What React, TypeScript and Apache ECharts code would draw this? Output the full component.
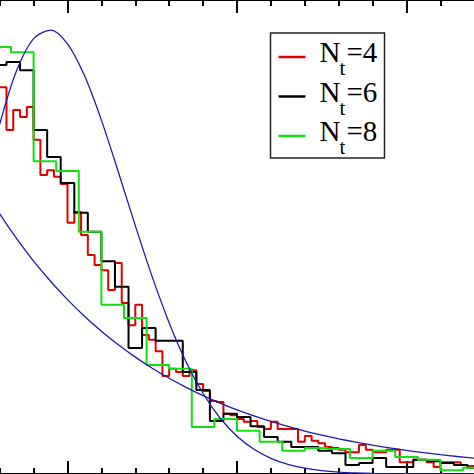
import React, { useEffect, useRef } from "react";
import * as echarts from "echarts";

// Histograms: bin start (s), bin width, bin heights
const redStart = 0.6;
const redWidth = 0.04;
const redValues = [
  0.816, 0.726, 0.768, 0.753, 0.774, 0.705, 0.631, 0.641, 0.627, 0.612,
  0.53, 0.553, 0.504, 0.462, 0.441, 0.43, 0.388, 0.445, 0.361, 0.314,
  0.357, 0.293, 0.283, 0.259, 0.207, 0.222, 0.215, 0.207, 0.219, 0.19,
  0.175, 0.154, 0.152, 0.127, 0.124, 0.116, 0.11, 0.112, 0.099, 0.095,
  0.11, 0.095, 0.095, 0.095, 0.068, 0.08, 0.07, 0.065, 0.057, 0.055,
  0.051, 0.046, 0.046, 0.061, 0.051, 0.046, 0.046, 0.051, 0.051, 0.025,
  0.025, 0.03, 0.03, 0.025, 0.015, 0.025, 0.025, 0.025, 0.019, 0.017,
];

const blackStart = 0.56;
const blackWidth = 0.08;
const blackValues = [
  0.863, 0.869, 0.852, 0.726, 0.669, 0.614, 0.551, 0.511, 0.449, 0.395,
  0.266, 0.308, 0.281, 0.281, 0.215, 0.177, 0.112, 0.127, 0.12, 0.101,
  0.078, 0.068, 0.057, 0.057, 0.049, 0.044, 0.019, 0.023, 0.034, 0.015,
  0.015, 0.03, 0.027, 0.023, 0.019, 0.013,
];

const greenStart = 8 / 15;
const greenWidth = 2 / 15;
const greenValues = [
  0.901, 0.89, 0.66, 0.639, 0.511, 0.357, 0.329, 0.23, 0.222, 0.099,
  0.116, 0.091, 0.068, 0.049, 0.055, 0.053, 0.034, 0.049, 0.036, 0.03,
  0.008, 0.013,
];

// Reference curves (sampled): Wigner surmise and Poisson
const curveS = [
  0.5, 0.6, 0.7, 0.8, 0.9, 1.0, 1.1, 1.2, 1.3, 1.4, 1.5, 1.6, 1.7, 1.8, 1.9,
  2.0, 2.1, 2.2, 2.3, 2.4, 2.5, 2.6, 2.7, 2.8, 2.9, 3.0, 3.1, 3.2, 3.3, 3.4, 3.5,
];
const wignerValues = [
  0.5896, 0.738, 0.8514, 0.9186, 0.9363, 0.9076, 0.8405, 0.7465, 0.637, 0.524,
  0.4158, 0.3188, 0.2364, 0.1698, 0.1181, 0.0797, 0.0521, 0.0331, 0.0204, 0.0122,
  0.0071, 0.004, 0.0022, 0.0012, 0.0006, 0.0003, 0.0001, 0.0001, 0.0, 0.0, 0.0,
];
const poissonValues = [
  0.6065, 0.5488, 0.4966, 0.4493, 0.4066, 0.3679, 0.3329, 0.3012, 0.2725, 0.2466,
  0.2231, 0.2019, 0.1827, 0.1653, 0.1496, 0.1353, 0.1225, 0.1108, 0.1003, 0.0907,
  0.0821, 0.0743, 0.0672, 0.0608, 0.055, 0.0498, 0.045, 0.0408, 0.0369, 0.0334, 0.0302,
];

const legendLabels = ["=4", "=6", "=8"];
const colors = ["#e00000", "#000000", "#10e010"];

const OFFSET = 102.5; // chart div starts this far left of the visible page

function histPoints(start: number, width: number, values: number[]) {
  const pts: number[][] = values.map((v, i) => [start + i * width, v]);
  pts.push([start + values.length * width, values[values.length - 1]]);
  return pts;
}

export default function App() {
  const ref = useRef<HTMLDivElement>(null);
  useEffect(() => {
    if (!ref.current) return;
    const chart = echarts.init(ref.current, null, { renderer: "svg" });
    const axisCommon = {
      type: "value" as const,
      min: 0,
      max: 4,
      interval: 1,
      axisLine: { show: true, onZero: false, lineStyle: { color: "#000", width: 2 } },
      axisTick: { show: true, inside: true, length: 13, lineStyle: { color: "#000", width: 2 } },
      minorTick: { show: true, splitNumber: 5, length: 6, lineStyle: { color: "#000", width: 2 } },
      axisLabel: { show: false },
      splitLine: { show: false },
      minorSplitLine: { show: false },
    };
    const legendGraphics: any[] = [
      {
        type: "rect",
        shape: { x: 270 + OFFSET, y: 33, width: 114, height: 125 },
        style: { fill: "#fff", stroke: "#222", lineWidth: 1.5 },
        z: 100,
      },
    ];
    legendLabels.forEach((lab, i) => {
      const cy = 57 + i * 39.5;
      legendGraphics.push({
        type: "line",
        shape: { x1: 278 + OFFSET, y1: cy, x2: 305 + OFFSET, y2: cy },
        style: { stroke: colors[i], lineWidth: 2.5 },
        z: 101,
      });
      legendGraphics.push({
        type: "text",
        x: 319 + OFFSET,
        y: cy - 5,
        style: {
          text: "N",
          font: "29px 'Liberation Serif'",
          fill: "#000",
          align: "left",
          verticalAlign: "middle",
        },
        z: 101,
      });
      legendGraphics.push({
        type: "text",
        x: 339 + OFFSET,
        y: cy + 11,
        style: {
          text: "t",
          font: "21px 'Liberation Serif'",
          fill: "#000",
          align: "left",
          verticalAlign: "middle",
        },
        z: 101,
      });
      legendGraphics.push({
        type: "text",
        x: 346 + OFFSET,
        y: cy - 5,
        style: {
          text: lab,
          font: "29px 'Liberation Serif'",
          fill: "#000",
          align: "left",
          verticalAlign: "middle",
        },
        z: 101,
      });
    });

    const histSeries = (data: number[][], color: string) => ({
      type: "line" as const,
      step: "end" as const,
      data,
      showSymbol: false,
      symbol: "none",
      lineStyle: { color, width: 2 },
      clip: true,
    });

    chart.setOption({
      animation: false,
      backgroundColor: "#fff",
      grid: { left: 0, top: 0, right: 0, bottom: 0 },
      xAxis: [
        { ...axisCommon, position: "bottom" },
        { ...axisCommon, position: "top" },
      ],
      yAxis: { type: "value", min: 0, max: 1, show: false },
      series: [
        histSeries(histPoints(redStart, redWidth, redValues), colors[0]),
        histSeries(histPoints(blackStart, blackWidth, blackValues), colors[1]),
        histSeries(histPoints(greenStart, greenWidth, greenValues), colors[2]),
        {
          type: "line",
          data: curveS.map((s, i) => [s, wignerValues[i]]),
          smooth: 0.3,
          showSymbol: false,
          symbol: "none",
          lineStyle: { color: "#1c1ca8", width: 1.3 },
        },
        {
          type: "line",
          data: curveS.map((s, i) => [s, poissonValues[i]]),
          smooth: 0.3,
          showSymbol: false,
          symbol: "none",
          lineStyle: { color: "#1c1ca8", width: 1.3 },
        },
      ],
      graphic: legendGraphics,
    });
    return () => chart.dispose();
  }, []);
  return (
    <div
      style={{
        position: "fixed",
        left: 0,
        top: 0,
        width: 474,
        height: 474,
        overflow: "hidden",
        background: "#fff",
      }}
    >
      <div
        ref={ref}
        style={{ position: "absolute", left: -OFFSET, top: 0, width: 678, height: 474 }}
      />
    </div>
  );
}
